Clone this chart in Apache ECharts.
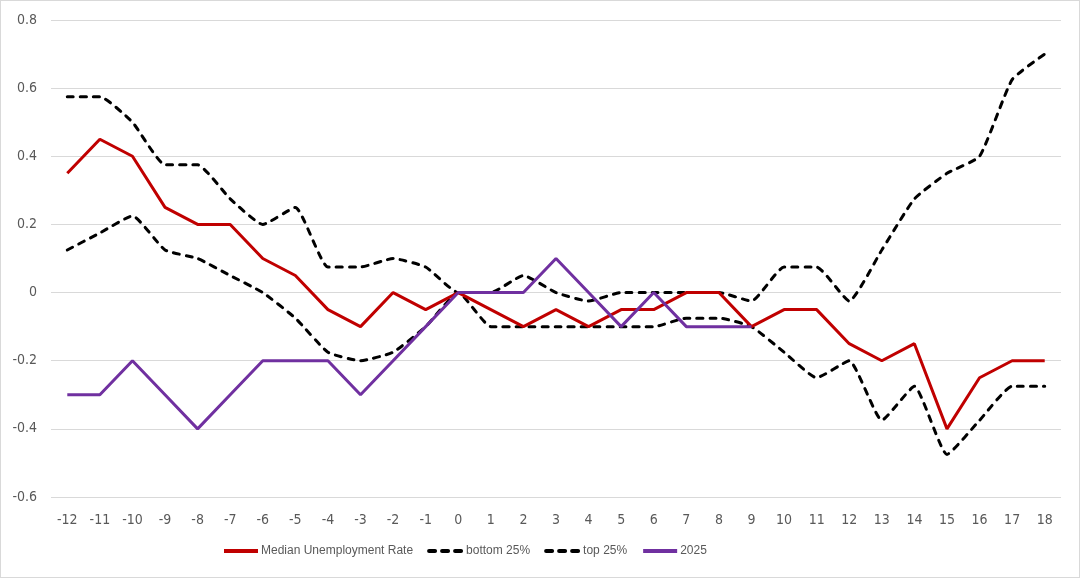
<!DOCTYPE html>
<html><head><meta charset="utf-8">
<script src="https://cdn.jsdelivr.net/npm/echarts@6/dist/echarts.min.js"></script>
<style>html,body{margin:0;padding:0;background:#fff}#c{width:1078px;height:576px;border:1px solid #d9d9d9}</style>
</head><body><div id="c"></div>
<script>
const categories = ['-12','-11','-10','-9','-8','-7','-6','-5','-4','-3','-2','-1','0','1','2','3','4','5','6','7','8','9','10','11','12','13','14','15','16','17','18'];
const median = [0.35,0.45,0.40,0.25,0.20,0.20,0.10,0.05,-0.05,-0.10,0.00,-0.05,0.00,-0.05,-0.10,-0.05,-0.10,-0.05,-0.05,0.00,0.00,-0.10,-0.05,-0.05,-0.15,-0.20,-0.15,-0.40,-0.25,-0.20,-0.20];
const bottom25 = [0.125,0.175,0.225,0.125,0.10,0.05,0.00,-0.075,-0.175,-0.20,-0.175,-0.10,0.00,-0.10,-0.10,-0.10,-0.10,-0.10,-0.10,-0.075,-0.075,-0.10,-0.175,-0.25,-0.20,-0.375,-0.275,-0.475,-0.375,-0.275,-0.275];
const top25 = [0.575,0.575,0.50,0.375,0.375,0.275,0.20,0.25,0.075,0.075,0.10,0.075,0.00,0.00,0.05,0.00,-0.025,0.00,0.00,0.00,0.00,-0.025,0.075,0.075,-0.025,0.125,0.275,0.35,0.40,0.625,0.70];
const y2025 = [-0.30,-0.30,-0.20,-0.30,-0.40,-0.30,-0.20,-0.20,-0.20,-0.30,-0.20,-0.10,0.00,0.00,0.00,0.10,0.00,-0.10,0.00,-0.10,-0.10,-0.10];
const names = ['Median Unemployment Rate','bottom 25%','top 25%','2025'];

const chart = echarts.init(document.getElementById('c'));
const font = '"DejaVu Sans Condensed", "Liberation Sans", sans-serif';
const lfont = '"Liberation Sans", sans-serif';
const dash = {color:'#000', width:3, type:[6,7], cap:'round'};
chart.setOption({
  animation:false,
  textStyle:{fontFamily:font},
  grid:{left:50,right:18,top:19,bottom:80},
  legend:{bottom:20,left:221,padding:0,itemWidth:34,itemHeight:10,itemGap:14,
    itemStyle:{opacity:0},
    lineStyle:{width:4},
    textStyle:{color:'#595959',fontSize:12,fontFamily:lfont,padding:[0,0,0,-2]},
    data:names
  },
  xAxis:{type:'category',data:categories,boundaryGap:true,
    axisLine:{show:false},axisTick:{show:false},
    axisLabel:{color:'#595959',fontSize:14,margin:16,interval:0,fontFamily:font}},
  yAxis:{type:'value',min:-0.6,max:0.8,interval:0.2,
    axisLine:{show:false},axisTick:{show:false},
    axisLabel:{color:'#595959',fontSize:14,margin:14,fontFamily:font,formatter:v=>{const r=Math.round(v*10)/10;return r===0?'0':r.toFixed(1);}},
    splitLine:{lineStyle:{color:'#d9d9d9',width:1}}},
  series:[
    {name:names[0],type:'line',data:median,symbol:'none',lineStyle:{color:'#C00000',width:3},itemStyle:{color:'#C00000'},z:3},
    {name:names[1],type:'line',data:bottom25,symbol:'none',smooth:0.15,lineStyle:dash,itemStyle:{color:'#000'},z:2},
    {name:names[2],type:'line',data:top25,symbol:'none',smooth:0.15,lineStyle:dash,itemStyle:{color:'#000'},z:2},
    {name:names[3],type:'line',data:y2025,symbol:'none',lineStyle:{color:'#7030A0',width:3},itemStyle:{color:'#7030A0'},z:4}
  ]
});
</script></body></html>
